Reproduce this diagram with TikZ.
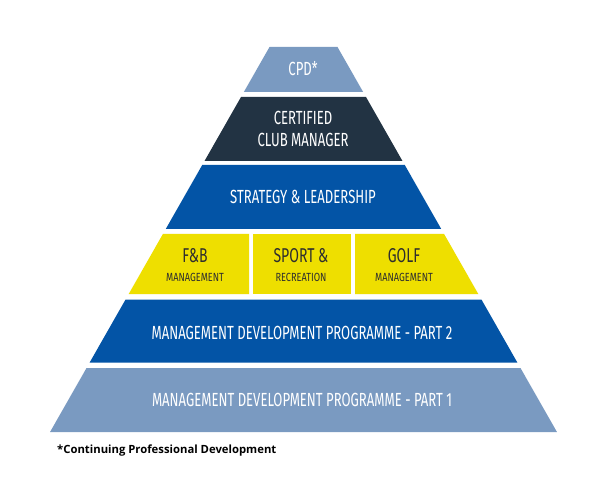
\documentclass[tikz,border=0pt]{standalone}
\usepackage{fontspec}
\newfontfamily\oswf[FakeStretch=0.69]{Fira Sans}
\newfontfamily\oswy[FakeStretch=0.70]{Fira Sans}
\newfontfamily\oswsm[FakeStretch=0.78]{Fira Sans}
\newfontfamily\foot{Open Sans}
\definecolor{steel}{HTML}{7A9AC1}
\definecolor{navy}{HTML}{223343}
\definecolor{royal}{HTML}{0354A6}
\definecolor{lemon}{HTML}{EEDF00}
\definecolor{darktext}{HTML}{2E2E2E}
\newcommand\pyrlayer[3]{\fill[#1] ({303.5-34-0.57*(#2-47)},#2) -- ({303.5+34+0.57*(#2-47)},#2) -- ({303.5+34+0.57*(#3-47)},#3) -- ({303.5-34-0.57*(#3-47)},#3) -- cycle;}
\tikzset{
  lbl/.style={text=white, font=\oswf\fontsize{19}{22}\selectfont, align=center, inner sep=0pt},
  ylbl/.style={text=darktext, font=\oswy\fontsize{20}{23}\selectfont, inner sep=0pt},
  ysmall/.style={text=darktext, font=\oswsm\fontsize{11.8}{13}\selectfont, inner sep=0pt},
}
\begin{document}
\begin{tikzpicture}[x=1pt,y=-1pt]
\useasboundingbox (0,0) rectangle (600,489);
\fill[white] (0,0) rectangle (600,489);
% layers
\pyrlayer{steel}{47}{92}
\pyrlayer{navy}{97}{161}
\pyrlayer{royal}{165}{229}
\pyrlayer{royal}{299.5}{362.5}
\pyrlayer{steel}{368}{432}
% yellow row
\fill[lemon] ({303.5-34-0.57*(234-47)},234) -- (249,234) -- (249,294) -- ({303.5-34-0.57*(294-47)},294) -- cycle;
\fill[lemon] (253,234) rectangle (351,294);
\fill[lemon] (355,234) -- ({303.5+34+0.57*(234-47)},234) -- ({303.5+34+0.57*(294-47)},294) -- (355,294) -- cycle;
% labels
\node[lbl] (cpd) at (303,69) {CPD*};
\node[lbl] (ccm1) at (303,118) {CERTIFIED};
\node[lbl] (ccm2) at (303,140) {CLUB MANAGER};
\node[lbl] (strat) at (303,197) {STRATEGY \& LEADERSHIP};
\node[ylbl] (fb) at (195,256) {F\&B};
\node[ysmall] (fbm) at (195,277) {MANAGEMENT};
\node[ylbl] (sport) at (301,256) {SPORT \&};
\node[ysmall] (sportr) at (301,277) {RECREATION};
\node[ylbl] (golf) at (404,256) {GOLF};
\node[ysmall] (golfm) at (404,277) {MANAGEMENT};
\node[lbl] (mdp2) at (302,333) {MANAGEMENT DEVELOPMENT PROGRAMME - PART 2};
\node[lbl] (mdp1) at (302,400) {MANAGEMENT DEVELOPMENT PROGRAMME - PART 1};
\node[anchor=west, inner sep=0pt, font=\foot\bfseries\fontsize{11.3}{13}\selectfont] (fn) at (57,451) {*Continuing Professional Development};
\end{tikzpicture}
\end{document}
